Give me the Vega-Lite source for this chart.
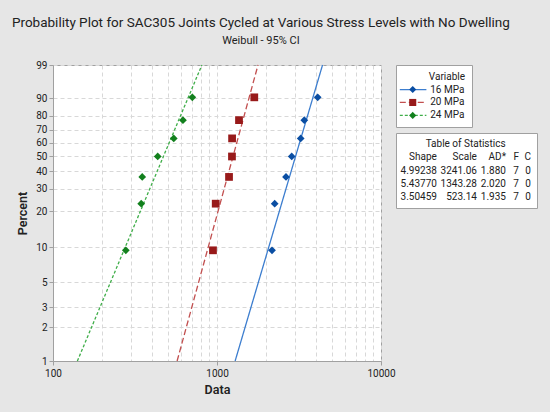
{
  "$schema": "https://vega.github.io/schema/vega-lite/v6.json",
  "background": "#e6e6e6",
  "padding": {"left": 11, "top": 16, "right": 17, "bottom": 16},
  "bounds": "flush",
  "spacing": 15,
  "config": {
    "font": "Roboto",
    "view": {"stroke": "#a0a0a0", "fill": "white"},
    "text": {"font": "Roboto", "fontSize": 10, "color": "#222222"}
  },
  "title": {
    "text": "Probability Plot for SAC305 Joints Cycled at Various Stress Levels with No Dwelling",
    "subtitle": "Weibull - 95% CI",
    "font": "Roboto",
    "subtitleFont": "Roboto",
    "fontSize": 13.5,
    "fontWeight": "normal",
    "color": "#222222",
    "subtitleFontSize": 11,
    "subtitleColor": "#222222",
    "subtitlePadding": 5,
    "anchor": "middle",
    "dx": -16,
    "offset": 14
  },
  "datasets": {
    "obs": [
      {"series": "16 MPa", "cycles": 2165, "percent": 9.46},
      {"series": "16 MPa", "cycles": 2248, "percent": 22.97},
      {"series": "16 MPa", "cycles": 2634, "percent": 36.49},
      {"series": "16 MPa", "cycles": 2855, "percent": 50},
      {"series": "16 MPa", "cycles": 3239, "percent": 63.51},
      {"series": "16 MPa", "cycles": 3406, "percent": 77.03},
      {"series": "16 MPa", "cycles": 4111, "percent": 90.54},
      {"series": "20 MPa", "cycles": 945, "percent": 9.46},
      {"series": "20 MPa", "cycles": 982, "percent": 22.97},
      {"series": "20 MPa", "cycles": 1184, "percent": 36.49},
      {"series": "20 MPa", "cycles": 1234, "percent": 50},
      {"series": "20 MPa", "cycles": 1236, "percent": 63.51},
      {"series": "20 MPa", "cycles": 1362, "percent": 77.03},
      {"series": "20 MPa", "cycles": 1688, "percent": 90.54},
      {"series": "24 MPa", "cycles": 278, "percent": 9.46},
      {"series": "24 MPa", "cycles": 345, "percent": 22.97},
      {"series": "24 MPa", "cycles": 350, "percent": 36.49},
      {"series": "24 MPa", "cycles": 435, "percent": 50},
      {"series": "24 MPa", "cycles": 545, "percent": 63.51},
      {"series": "24 MPa", "cycles": 620, "percent": 77.03},
      {"series": "24 MPa", "cycles": 707, "percent": 90.54}
    ],
    "fit": [
      {"series": "16 MPa", "cycles": 1289.8, "percent": 1},
      {"series": "16 MPa", "cycles": 4400.8, "percent": 99},
      {"series": "20 MPa", "cycles": 571.1, "percent": 1},
      {"series": "20 MPa", "cycles": 1778.9, "percent": 99},
      {"series": "24 MPa", "cycles": 140.8, "percent": 1},
      {"series": "24 MPa", "cycles": 808.8, "percent": 99}
    ],
    "stats": [
      {"series": "16 MPa", "Shape": "4.99238", "Scale": "3241.06", "AD": "1.880", "F": "7", "C": "0"},
      {"series": "20 MPa", "Shape": "5.43770", "Scale": "1343.28", "AD": "2.020", "F": "7", "C": "0"},
      {"series": "24 MPa", "Shape": "3.50459", "Scale": "523.14", "AD": "1.935", "F": "7", "C": "0"}
    ]
  },
  "hconcat": [
    {
      "width": 328,
      "height": 296,
      "layer": [
        {
          "data": {"name": "fit"},
          "transform": [{"calculate": "log(-log(1 - datum.percent / 100))", "as": "wy"}],
          "mark": {"type": "line", "strokeWidth": 1.3},
          "encoding": {
            "x": {
              "field": "cycles",
              "type": "quantitative",
              "scale": {"type": "log", "domain": [100, 10000]},
              "axis": {
                "title": "Data",
                "values": [100, 200, 300, 400, 500, 600, 700, 800, 900, 1000, 2000, 3000, 4000, 5000, 6000, 7000, 8000, 9000, 10000],
                "tickCount": 40,
                "format": "d",
                "labelExpr": "datum.value == 100 || datum.value == 1000 || datum.value == 10000 ? datum.label : ''",
                "labelFlush": false,
                "labelOverlap": false,
                "labelFontSize": 10,
                "labelColor": "#222222",
                "labelPadding": 3,
                "titleFontSize": 12.5,
                "titleFontWeight": 600,
                "titleColor": "#222222",
                "titlePadding": 5,
                "domainColor": "#a0a0a0",
                "tickColor": "#a0a0a0",
                "tickSize": 4,
                "tickOpacity": {"condition": {"test": "datum.value == 100 || datum.value == 1000 || datum.value == 10000", "value": 1}, "value": 0},
                "grid": true,
                "gridColor": "#d8d8d8",
                "gridDash": [4, 3]
              }
            },
            "y": {
              "field": "wy",
              "type": "quantitative",
              "scale": {"domain": [-4.60015, 1.52718], "nice": false, "zero": false},
              "axis": {
                "title": "Percent",
                "values": [-4.60015, -3.90194, -3.49137, -2.9702, -2.25037, -1.49994, -1.03093, -0.67173, -0.36651, -0.08742, 0.18563, 0.47588, 0.83403, 1.52718],
                "tickCount": 40,
                "labelExpr": "round(100 * (1 - exp(-exp(datum.value))))",
                "labelOverlap": false,
                "labelBound": false,
                "labelFontSize": 10,
                "labelColor": "#222222",
                "labelPadding": 2,
                "titleFontSize": 12.5,
                "titleFontWeight": 600,
                "titleColor": "#222222",
                "titlePadding": 6,
                "domainColor": "#a0a0a0",
                "tickColor": "#a0a0a0",
                "tickSize": 4,
                "grid": true,
                "gridColor": "#d8d8d8",
                "gridDash": [4, 3]
              }
            },
            "stroke": {
              "field": "series",
              "type": "nominal",
              "scale": {"domain": ["16 MPa", "20 MPa", "24 MPa"], "range": ["#3d7ecf", "#c24f4f", "#3fae49"]},
              "legend": null
            },
            "strokeDash": {
              "field": "series",
              "type": "nominal",
              "scale": {"domain": ["16 MPa", "20 MPa", "24 MPa"], "range": [[1, 0], [6, 3], [3, 2]]},
              "legend": null
            }
          }
        },
        {
          "data": {"name": "obs"},
          "transform": [{"calculate": "log(-log(1 - datum.percent / 100))", "as": "wy"}],
          "mark": {"type": "point", "filled": true, "opacity": 1, "size": 60},
          "encoding": {
            "x": {"field": "cycles", "type": "quantitative"},
            "y": {"field": "wy", "type": "quantitative"},
            "fill": {
              "field": "series",
              "type": "nominal",
              "scale": {"domain": ["16 MPa", "20 MPa", "24 MPa"], "range": ["#0a4ea3", "#981a1a", "#12801d"]},
              "legend": null
            },
            "shape": {
              "field": "series",
              "type": "nominal",
              "scale": {"domain": ["16 MPa", "20 MPa", "24 MPa"], "range": ["diamond", "square", "diamond"]},
              "legend": null
            }
          }
        }
      ]
    },
    {
      "spacing": 4,
      "vconcat": [
        {
          "width": 76,
          "height": 62,
          "data": {"name": "stats"},
          "encoding": {
            "y": {
              "field": "series",
              "type": "nominal",
              "scale": {"type": "point", "domain": ["Variable", "16 MPa", "20 MPa", "24 MPa"], "padding": 0.9},
              "axis": null
            }
          },
          "layer": [
            {
              "mark": {"type": "rule", "strokeWidth": 1.2},
              "encoding": {
                "x": {"datum": 0.05, "type": "quantitative", "scale": {"domain": [0, 1]}, "axis": null},
                "x2": {"datum": 0.4},
                "stroke": {
                  "field": "series",
                  "type": "nominal",
                  "scale": {"domain": ["16 MPa", "20 MPa", "24 MPa"], "range": ["#3d7ecf", "#c24f4f", "#3fae49"]},
                  "legend": null
                },
                "strokeDash": {
                  "field": "series",
                  "type": "nominal",
                  "scale": {"domain": ["16 MPa", "20 MPa", "24 MPa"], "range": [[1, 0], [6, 3], [3, 2]]},
                  "legend": null
                }
              }
            },
            {
              "mark": {"type": "point", "filled": true, "opacity": 1, "size": 50},
              "encoding": {
                "x": {"datum": 0.22, "type": "quantitative"},
                "fill": {
                  "field": "series",
                  "type": "nominal",
                  "scale": {"domain": ["16 MPa", "20 MPa", "24 MPa"], "range": ["#0a4ea3", "#981a1a", "#12801d"]},
                  "legend": null
                },
                "shape": {
                  "field": "series",
                  "type": "nominal",
                  "scale": {"domain": ["16 MPa", "20 MPa", "24 MPa"], "range": ["diamond", "square", "diamond"]},
                  "legend": null
                }
              }
            },
            {
              "mark": {"type": "text", "align": "left", "baseline": "middle"},
              "encoding": {
                "x": {"datum": 0.45, "type": "quantitative"},
                "text": {"field": "series"}
              }
            },
            {
              "data": {"values": [{"label": "Variable"}]},
              "mark": {"type": "text", "align": "center", "baseline": "middle"},
              "encoding": {
                "x": {"datum": 0.67, "type": "quantitative"},
                "y": {"datum": "Variable"},
                "text": {"field": "label"}
              }
            }
          ]
        },
        {
          "width": 141,
          "height": 75,
          "data": {"name": "stats"},
          "encoding": {
            "y": {
              "field": "series",
              "type": "nominal",
              "scale": {"type": "point", "domain": ["title", "header", "16 MPa", "20 MPa", "24 MPa"], "padding": 0.85},
              "axis": null
            }
          },
          "layer": [
            {
              "data": {"values": [{"label": "Table of Statistics"}]},
              "mark": {"type": "text", "align": "center", "baseline": "middle"},
              "encoding": {
                "x": {"datum": 0.494, "type": "quantitative", "scale": {"domain": [0, 1]}, "axis": null},
                "y": {"datum": "title"},
                "text": {"field": "label"}
              }
            },
            {
              "data": {"values": [{"col": "Shape"}]},
              "mark": {"type": "text", "align": "right", "baseline": "middle"},
              "encoding": {"x": {"datum": 0.29, "type": "quantitative"}, "y": {"datum": "header"}, "text": {"field": "col"}}
            },
            {
              "data": {"values": [{"col": "Scale"}]},
              "mark": {"type": "text", "align": "right", "baseline": "middle"},
              "encoding": {"x": {"datum": 0.574, "type": "quantitative"}, "y": {"datum": "header"}, "text": {"field": "col"}}
            },
            {
              "data": {"values": [{"col": "AD*"}]},
              "mark": {"type": "text", "align": "right", "baseline": "middle"},
              "encoding": {"x": {"datum": 0.78, "type": "quantitative"}, "y": {"datum": "header"}, "text": {"field": "col"}}
            },
            {
              "data": {"values": [{"col": "F"}]},
              "mark": {"type": "text", "align": "right", "baseline": "middle"},
              "encoding": {"x": {"datum": 0.872, "type": "quantitative"}, "y": {"datum": "header"}, "text": {"field": "col"}}
            },
            {
              "data": {"values": [{"col": "C"}]},
              "mark": {"type": "text", "align": "right", "baseline": "middle"},
              "encoding": {"x": {"datum": 0.957, "type": "quantitative"}, "y": {"datum": "header"}, "text": {"field": "col"}}
            },
            {
              "mark": {"type": "text", "align": "right", "baseline": "middle"},
              "encoding": {"x": {"datum": 0.29, "type": "quantitative"}, "text": {"field": "Shape"}}
            },
            {
              "mark": {"type": "text", "align": "right", "baseline": "middle"},
              "encoding": {"x": {"datum": 0.574, "type": "quantitative"}, "text": {"field": "Scale"}}
            },
            {
              "mark": {"type": "text", "align": "right", "baseline": "middle"},
              "encoding": {"x": {"datum": 0.78, "type": "quantitative"}, "text": {"field": "AD"}}
            },
            {
              "mark": {"type": "text", "align": "right", "baseline": "middle"},
              "encoding": {"x": {"datum": 0.872, "type": "quantitative"}, "text": {"field": "F"}}
            },
            {
              "mark": {"type": "text", "align": "right", "baseline": "middle"},
              "encoding": {"x": {"datum": 0.957, "type": "quantitative"}, "text": {"field": "C"}}
            }
          ]
        }
      ]
    }
  ]
}
